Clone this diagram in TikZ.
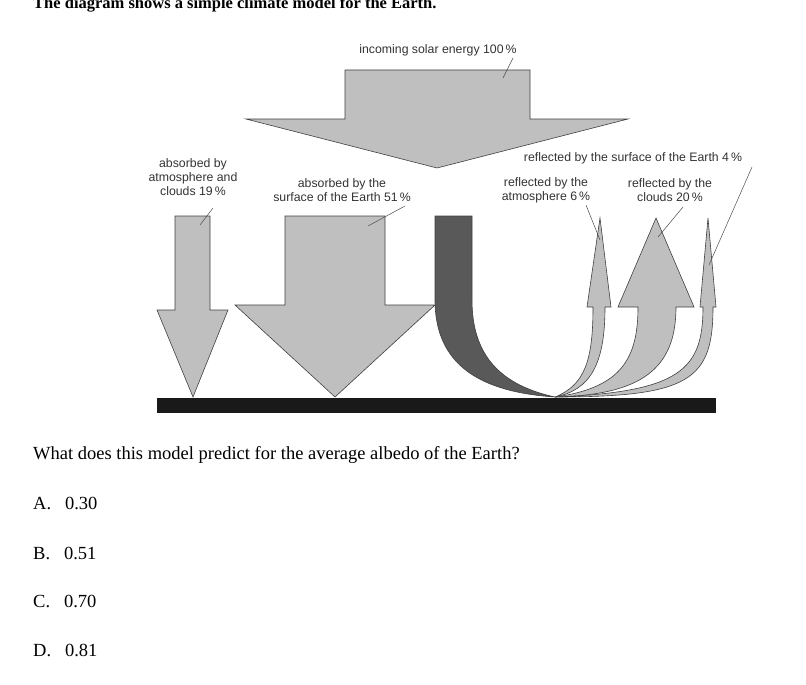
\documentclass[tikz,border=0pt]{standalone}
\usepackage{fontspec}
\setmainfont{Liberation Serif}
\newfontfamily\arialf{Liberation Sans}
\begin{document}
\begin{tikzpicture}[x=1pt,y=-1pt,
  arr/.style={draw=black!75,line width=0.6pt,fill=black!25},
  lbl/.style={font=\arialf\fontsize{12.3}{14}\selectfont,text=black!80,align=center,inner sep=0pt},
  lead/.style={draw=black!70,line width=0.5pt},
  q/.style={font=\fontsize{18.5}{20}\selectfont,anchor=west,inner sep=0pt}]
\useasboundingbox (0,0) rectangle (806,685);
% title (cut)
\node[q,font=\bfseries\fontsize{16.5}{18}\selectfont] (title) at (33,5) {The diagram shows a simple climate model for the Earth.};
% incoming arrow
\draw[arr] (345,70) -- (530,70) -- (530,119) -- (628,119) -- (437,168) -- (246,119) -- (345,119) -- cycle;
% left arrow
\draw[arr] (175,216) -- (210,216) -- (210,310) -- (228,310) -- (193,397) -- (157,310) -- (175,310) -- cycle;
% middle arrow
\draw[arr] (285,216) -- (385,216) -- (385,305) -- (435,305) -- (335,397) -- (235,305) -- (285,305) -- cycle;
% dark U
\draw[draw=black!75,line width=0.6pt,fill=black!65] (435,216) -- (472,216) -- (472,300) .. controls (472,355) and (500,385) .. (555,397) .. controls (480,392) and (435,365) .. (435,300) -- cycle;
% reflected atmosphere
\draw[arr] (555,397) .. controls (585,385) and (593,360) .. (593,307) -- (587,307) -- (600,218) -- (611,307) -- (605,307) .. controls (605,365) and (590,390) .. (555,397) -- cycle;
% reflected clouds
\draw[arr] (555,397) .. controls (620,388) and (638,360) .. (638,307) -- (618,307) -- (656,218) -- (694,307) -- (676,307) .. controls (676,370) and (640,395) .. (555,397) -- cycle;
% reflected surface
\draw[arr] (555,397) .. controls (680,392) and (703,370) .. (703,307) -- (700,307) -- (708,218) -- (716,307) -- (713,307) .. controls (713,380) and (690,397) .. (555,397) -- cycle;
% ground
\fill[black!90] (157,398) rectangle (716,413);
% labels
\node[lbl] (inc) at (438,50) {incoming solar energy 100\,\%};
\draw[lead] (513,58) -- (503,78);
\node[lbl] (abs1) at (193,177) {absorbed by\\atmosphere and\\clouds 19\,\%};
\draw[lead] (213,208) -- (200,225);
\node[lbl] (abs2) at (342,190) {absorbed by the\\surface of the Earth 51\,\%};
\draw[lead] (405,206) -- (368,226);
\node[lbl] (r4) at (633,158) {reflected by the surface of the Earth 4\,\%};
\draw[lead] (752,167) -- (709,265);
\node[lbl] (r6) at (546,190) {reflected by the\\atmosphere 6\,\%};
\draw[lead] (586,205) -- (600,240);
\node[lbl] (r20) at (670,190) {reflected by the\\clouds 20\,\%};
\draw[lead] (683,207) -- (658,237);
% question
\node[q] (qq) at (33,455) {What does this model predict for the average albedo of the Earth?};
\node[q] (a) at (33,503) {A.\ \ \ 0.30};
\node[q] (b) at (33,553) {B.\ \ \ 0.51};
\node[q] (c) at (33,601) {C.\ \ \ 0.70};
\node[q] (d) at (33,650) {D.\ \ \ 0.81};
\end{tikzpicture}
\end{document}
